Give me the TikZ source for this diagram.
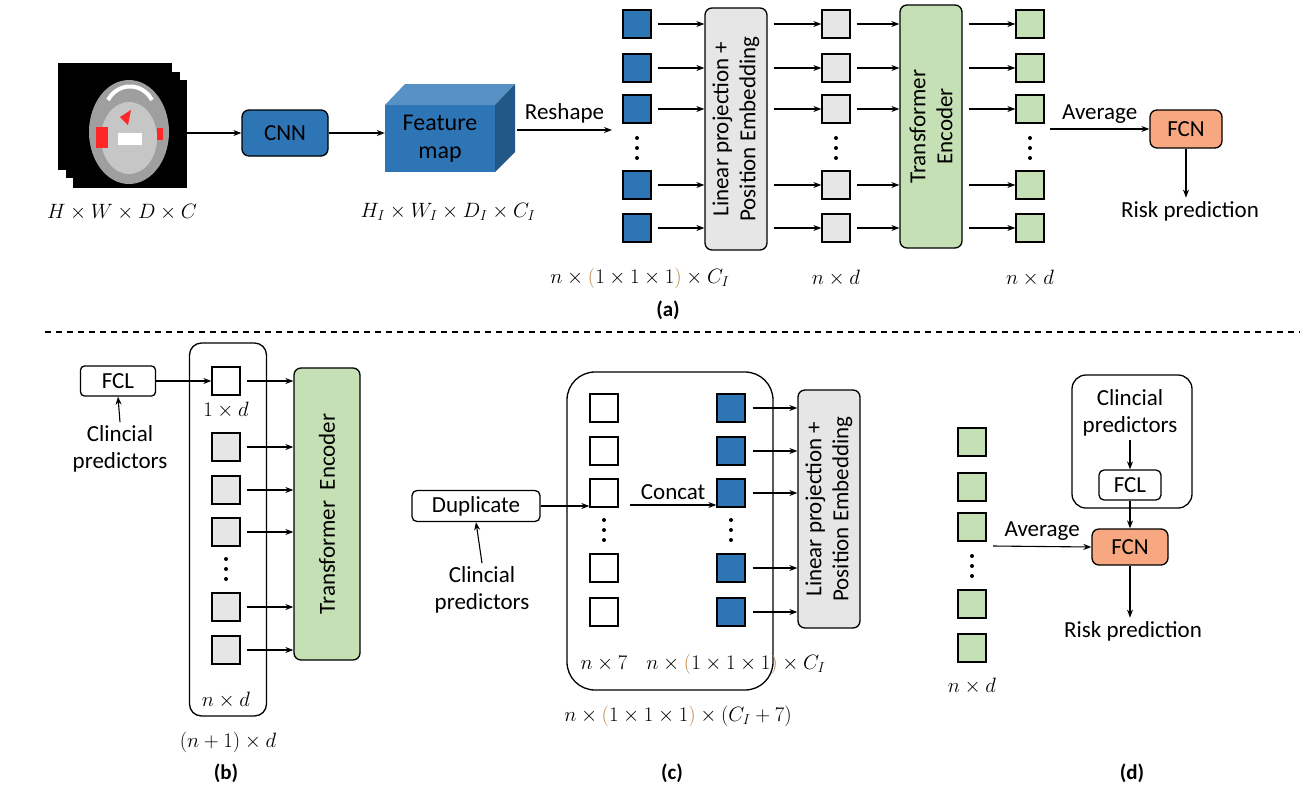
\documentclass[tikz,border=0pt]{standalone}
\usepackage{fontspec}
\setmainfont{Carlito}
\usetikzlibrary{arrows.meta}
\definecolor{bl}{HTML}{2E75B6}
\definecolor{gr}{HTML}{E7E6E6}
\definecolor{gn}{HTML}{C5E0B4}
\definecolor{or}{HTML}{F8A880}
\newcommand{\vdts}[2]{\foreach \dd in {-10,0,10}{\fill (#1,#2+\dd) circle (2pt);}}
\begin{document}
\begin{tikzpicture}[x=1pt,y=-1pt,
 every node/.style={font=\fontsize{23}{27}\selectfont},
 arr/.style={-{Stealth[length=8pt,width=6pt]},line width=1.1pt},
 box/.style={draw,line width=1.3pt,rounded corners=7pt,inner sep=0pt},
 sq/.style={draw,line width=1.3pt,minimum size=28pt,inner sep=0pt},
 bsq/.style={sq,fill=bl},gsq/.style={sq,fill=gr},nsq/.style={sq,fill=gn},wsq/.style={sq,fill=white},
 mlab/.style={font=\fontsize{20}{24}\selectfont}]
\useasboundingbox (0,0) rectangle (1312,796);
% ---- (a) ----
\fill[black] (58,63) rectangle (172,170);
\fill[black] (66,72) rectangle (180,178);
\fill[black] (73,80) rectangle (187,188);
\node[fill=black,minimum width=114pt,minimum height=108pt,inner sep=0pt] (ct) at (130,134) {};
\fill[gray!75] (129,132) ellipse (40pt and 52pt);
\fill[gray!45] (129,138) ellipse (28pt and 36pt);
\draw[white,line width=4pt] (108,100) .. controls (118,82) and (142,82) .. (152,100);
\fill[white] (118,133) rectangle (142,145);
\fill[red!85] (96,127) rectangle (108,148);
\fill[red!85] (157,128) rectangle (163,140);
\fill[red!85] (120,117) -- (131,110) -- (128,125) -- cycle;
\node[mlab] at (122,212) {$H\times W\times D\times C$};
\node[box,fill=bl,minimum width=86pt,minimum height=46pt] (cnn) at (285,133) {CNN};
\fill[bl!80!white] (385,105) -- (405,84) -- (515,84) -- (495,105) -- cycle;
\fill[bl!75!black] (495,105) -- (515,84) -- (515,152) -- (495,172) -- cycle;
\node[fill=bl,minimum width=110pt,minimum height=67pt,inner sep=0pt,align=center,font=\fontsize{24}{28}\selectfont] (fm) at (440,138.5) {Feature\\map};
\node[mlab] at (448,212) {$H_I\times W_I\times D_I\times C_I$};
\draw[arr] (ct.east|-cnn.west) -- (cnn.west);
\draw[arr] (cnn.east) -- (fm.west|-cnn.east);
\coordinate (r0) at (517,130);
\coordinate (r1) at (612,130);
\draw[arr] (r0) -- (r1) node[midway,above=3pt] {Reshape};
\foreach \i/\y in {1/24,2/68,3/109,4/185,5/228}{
 \node[bsq] (b\i) at (637,\y) {};
 \node[gsq] (g\i) at (836,\y) {};
 \node[nsq] (n\i) at (1030,\y) {};}
\vdts{637}{148}\vdts{836}{148}\vdts{1030}{148}
\node[box,fill=gr,minimum width=62pt,minimum height=242pt] (lp) at (736,129) {};
\node[rotate=90,align=center] at (lp) {Linear projection +\\Position Embedding};
\node[box,fill=gn,minimum width=62pt,minimum height=243pt] (te) at (931,126.5) {};
\node[rotate=90,align=center] at (te) {Transformer\\Encoder};
\foreach \i in {1,...,5}{
 \draw[arr] (b\i.east) ++(6,0) -- (lp.west|-b\i);
 \draw[arr] (lp.east|-g\i) ++(6,0) -- (g\i.west);
 \draw[arr] (g\i.east) ++(6,0) -- (te.west|-g\i);
 \draw[arr] (te.east|-n\i) ++(6,0) -- (n\i.west);}
\node[box,fill=or,minimum width=72pt,minimum height=38pt] (fcn) at (1186,129) {FCN};
\coordinate (a0) at (1050,129);
\draw[arr] (a0) -- (fcn.west) node[midway,above=2pt] {Average};
\node (risk) at (1190,211) {Risk prediction};
\draw[arr] (fcn.south) -- (fcn.south|-risk.north);
\node[mlab] at (640,278) {$n\times{\color{brown}(}1\times1\times1{\color{brown})}\times C_I$};
\node[mlab] at (836,278) {$n\times d$};
\node[mlab] at (1030,278) {$n\times d$};
\node[font=\bfseries\fontsize{21}{24}\selectfont] at (668,310) {(a)};
\draw[dashed,line width=1.1pt,dash pattern=on 6pt off 5pt] (45,332) -- (1300,332);
% ---- (b) ----
\node[box,rounded corners=4pt,minimum width=75pt,minimum height=30pt] (fcl) at (118,381) {FCL};
\node[align=center] (cp1) at (120,449) {Clincial\\predictors};
\draw[arr] (cp1.north) -- (fcl.south);
\node[box,rounded corners=12pt,minimum width=77pt,minimum height=373pt] (bb) at (228,529.5) {};
\node[wsq] (w0) at (226,381) {};
\node[mlab] at (226,410) {$1\times d$};
\foreach \i/\y in {1/447,2/490,3/532,4/607,5/650}{\node[gsq] (q\i) at (226,\y) {};}
\vdts{226}{569}
\node[box,fill=gn,minimum width=66pt,minimum height=292pt] (te2) at (327,514) {};
\node[rotate=90] at (te2) {Transformer\ \ Encoder};
\draw[arr] (fcl.east) -- (w0.west);
\draw[arr] (w0.east) ++(6,0) -- (te2.west|-w0);
\foreach \i in {1,...,5}{\draw[arr] (q\i.east) ++(6,0) -- (te2.west|-q\i);}
\node[mlab] at (226,700) {$n\times d$};
\node[mlab] at (228,742) {$(n+1)\times d$};
\node[font=\bfseries\fontsize{21}{24}\selectfont] at (226,773) {(b)};
% ---- (c) ----
\node[box,rounded corners=5pt,minimum width=128pt,minimum height=31pt] (dup) at (476,506) {Duplicate};
\node[align=center] (cp2) at (482,590) {Clincial\\predictors};
\draw[arr] (cp2.north) -- (dup.south);
\node[box,rounded corners=28pt,minimum width=206pt,minimum height=318pt] (cb) at (670,531) {};
\foreach \i/\y in {1/408,2/451,3/493,4/568,5/612}{
 \node[wsq] (c\i) at (604,\y) {};
 \node[bsq] (d\i) at (731,\y) {};}
\vdts{604}{530}\vdts{731}{530}
\node[box,fill=gr,minimum width=62pt,minimum height=238pt] (lp2) at (829,509) {};
\node[rotate=90,align=center] at (lp2) {Linear projection +\\Position Embedding};
\foreach \i in {1,...,5}{\draw[arr] (d\i.east) ++(7,0) -- (lp2.west|-d\i);}
\draw[arr] (dup.east) -- (c3.west|-dup.east);
\coordinate (k0) at (630,505);
\draw[arr] (k0) -- (d3.west|-k0) node[midway,above=1pt] {Concat};
\node[mlab] at (604,664) {$n\times 7$};
\node[mlab] at (736,664) {$n\times{\color{brown}(}1\times1\times1{\color{brown})}\times C_I$};
\node[mlab] at (678,716) {$n\times{\color{brown}(}1\times1\times1{\color{brown})}\times(C_I+7)$};
\node[font=\bfseries\fontsize{21}{24}\selectfont] at (672,773) {(c)};
% ---- (d) ----
\foreach \i/\y in {1/442,2/487,3/527,4/604,5/648}{\node[nsq] (e\i) at (972,\y) {};}
\vdts{972}{566}
\node[mlab] at (972,686) {$n\times d$};
\node[box,rounded corners=14pt,minimum width=120pt,minimum height=133pt] (db) at (1132,441.5) {};
\node[align=center] (cp3) at (1130,413) {Clincial\\predictors};
\node[box,rounded corners=5pt,minimum width=62pt,minimum height=30pt] (fcl2) at (1130,485) {FCL};
\draw[arr] (cp3.south) -- (fcl2.north);
\node[box,fill=or,minimum width=76pt,minimum height=36pt] (fcn2) at (1130,547) {FCN};
\draw[arr] (fcl2.south) -- (fcn2.north);
\coordinate (v0) at (993,546);
\draw[arr] (v0) -- (fcn2.west) node[midway,above=2pt] {Average};
\node (risk2) at (1133,631) {Risk prediction};
\draw[arr] (fcn2.south) -- (fcn2.south|-risk2.north);
\node[font=\bfseries\fontsize{21}{24}\selectfont] at (1132,773) {(d)};
\end{tikzpicture}
\end{document}
